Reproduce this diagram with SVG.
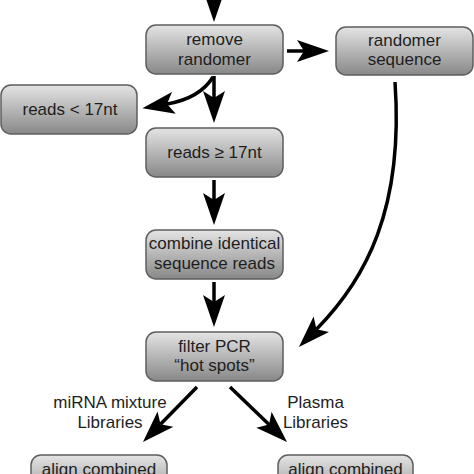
<svg xmlns="http://www.w3.org/2000/svg" width="474" height="474" viewBox="0 0 474 474">
<style>
.box{fill:url(#g);stroke:#5e5e5e;stroke-width:1.5}
.t{font-family:"Liberation Sans",Arial,sans-serif;font-size:17px;fill:#1e1e1e;text-anchor:middle}
.c{fill:none;stroke:#000;stroke-width:3.5;marker-end:url(#ah)}
</style>
<defs>
<linearGradient id="g" x1="0" y1="0" x2="0" y2="1">
<stop offset="0" stop-color="#e4e4e4"/>
<stop offset="1" stop-color="#888888"/>
</linearGradient>
<marker id="ah" viewBox="0 0 32 22" refX="7" refY="11" markerWidth="32" markerHeight="22" markerUnits="userSpaceOnUse" orient="auto">
<path d="M0,0 L32,11 L0,22 L7,11 Z" fill="#000"/>
</marker>
</defs>
<rect width="474" height="474" fill="#fff"/>
<g id="connectors">
<path class="c" d="M214,-20 L214,-3"/>
<path class="c" d="M287,51 L304,51"/>
<path class="c" d="M214,76 L214,98"/>
<path class="c" d="M213,77 C205,90 190,100 167,104"/>
<path class="c" d="M214,180 L214,200"/>
<path class="c" d="M214,282 L214,302"/>
<path class="c" d="M395,82 C404,210 365,280 316.5,329.2"/>
<path class="c" d="M197,387 L160.5,424.2"/>
<path class="c" d="M230,387 L269,424.6"/>
</g>
<g id="remove-randomer">
<rect class="box" x="146" y="25" width="137" height="49" rx="10"/>
<text class="t" x="214.5" y="45">remove</text>
<text class="t" x="214.5" y="65">randomer</text>
</g>
<g id="randomer-sequence">
<rect class="box" x="336" y="27" width="137" height="48" rx="10"/>
<text class="t" x="404.5" y="46">randomer</text>
<text class="t" x="404.5" y="65">sequence</text>
</g>
<g id="reads-lt-17">
<rect class="box" x="1" y="85" width="136" height="49" rx="10"/>
<text class="t" x="70" y="115">reads &lt; 17nt</text>
</g>
<g id="reads-ge-17">
<rect class="box" x="146" y="128" width="137" height="49" rx="10"/>
<text class="t" x="214.5" y="158">reads ≥ 17nt</text>
</g>
<g id="combine">
<rect class="box" x="146" y="230" width="137" height="49" rx="10"/>
<text class="t" x="214.5" y="249">combine identical</text>
<text class="t" x="214.5" y="269">sequence reads</text>
</g>
<g id="filter">
<rect class="box" x="146" y="332" width="137" height="49" rx="10"/>
<text class="t" x="214.5" y="352">filter PCR</text>
<text class="t" x="214.5" y="371">“hot spots”</text>
</g>
<g id="label-mirna">
<text class="t" x="110" y="408">miRNA mixture</text>
<text class="t" x="110" y="428">Libraries</text>
</g>
<g id="label-plasma">
<text class="t" x="315.5" y="408">Plasma</text>
<text class="t" x="315.5" y="428">Libraries</text>
</g>
<g id="align-left">
<rect class="box" x="31" y="455" width="136" height="49" rx="10"/>
<text class="t" x="99" y="475">align combined</text>
</g>
<g id="align-right">
<rect class="box" x="278" y="455" width="135" height="49" rx="10"/>
<text class="t" x="345.5" y="475">align combined</text>
</g>
</svg>
